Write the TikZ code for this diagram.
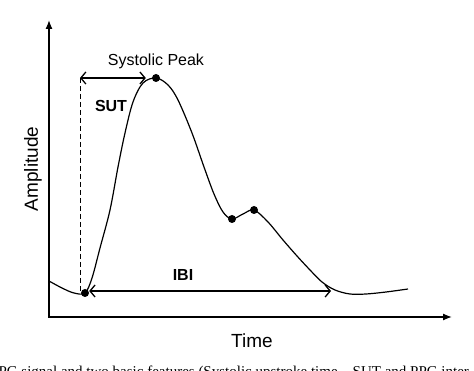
\documentclass[tikz,border=0pt]{standalone}
\usepackage{fontspec}
\setmainfont{Liberation Sans}
\newfontfamily\capfont{Liberation Serif}
\usetikzlibrary{arrows,arrows.meta,positioning}

\begin{document}
\begin{tikzpicture}[x=1pt, y=-1pt, node distance=2pt, auto]
      % Define styles
      \tikzstyle{axis} = [draw, line width=1.3pt, {Latex[length=9pt,width=7pt]}-{Latex[length=9pt,width=7pt]}]
      \tikzstyle{wave} = [draw, line width=1.2pt]
      \tikzstyle{dot} = [circle, fill, inner sep=0pt, minimum size=8pt]
      \tikzstyle{measure} = [draw, line width=1.3pt, {Straight Barb[length=5pt,width=12pt]}-{Straight Barb[length=5pt,width=12pt]}]
      \tikzstyle{lbl} = [font=\fontsize{16}{18}\selectfont]
      \tikzstyle{axlbl} = [font=\fontsize{19}{22}\selectfont]

      % Frame
      \clip (0,0) rectangle (474,371);

      % Axes
      \coordinate (origin) at (49,317);
      \coordinate (ytop) at (49,20);
      \coordinate (xend) at (452,317);
      \path [axis] (ytop) -- (origin) -- (xend);
      \node [axlbl] (time) at (252,341) {Time};
      \node [axlbl, rotate=90] (amp) at (33,169) {Amplitude};

      % Feature points
      \node [dot] (foot) at (85,293) {};
      \node [dot] (peak) at (156,78) {};
      \node [dot] (notch) at (232,219) {};
      \node [dot] (dpeak) at (254,210) {};

      % Signal
      \draw [wave] plot [smooth, tension=0.55] coordinates {(49,281) (62,288) (74,293) (85,293)
        (92,278) (100,248) (110,210) (118,167) (125,133) (133,102) (143,83) (156,78)
        (168,85) (178,100) (192,133) (204,167) (214,194) (223,212) (232,219)
        (243,214) (254,210) (268,222) (283,240) (297,256) (310,270) (322,282)
        (335,290) (350,294) (366,294) (386,292) (408,289)};

      % Systolic upstroke time
      \coordinate (sutstart) at (80,78);
      \draw [dashed, dash pattern=on 5pt off 3pt, line width=0.8pt] (sutstart) -- (sutstart |- foot);
      \path [measure, shorten >=6pt] (sutstart) -- (peak.west);
      \node [lbl, above=1pt of peak] (peaklabel) {Systolic Peak};
      \node [lbl, font=\fontsize{16}{18}\selectfont\bfseries] (sut) at (111,106) {SUT};

      % Inter-beat interval
      \coordinate (ibiend) at (331,291);
      \path [measure] (foot.east |- ibiend) -- (ibiend);
      \node [lbl, font=\fontsize{16}{18}\selectfont\bfseries] (ibi) at (183,275) {IBI};

      % Caption (cut by the frame, as in the source)
      \node [anchor=base west, inner sep=0pt, font=\capfont\fontsize{15}{17}\selectfont] (caption) at (-10,377)
        {PPG signal and two basic features (Systolic upstroke time – SUT and PPG inter};
    \end{tikzpicture}
\end{document}
